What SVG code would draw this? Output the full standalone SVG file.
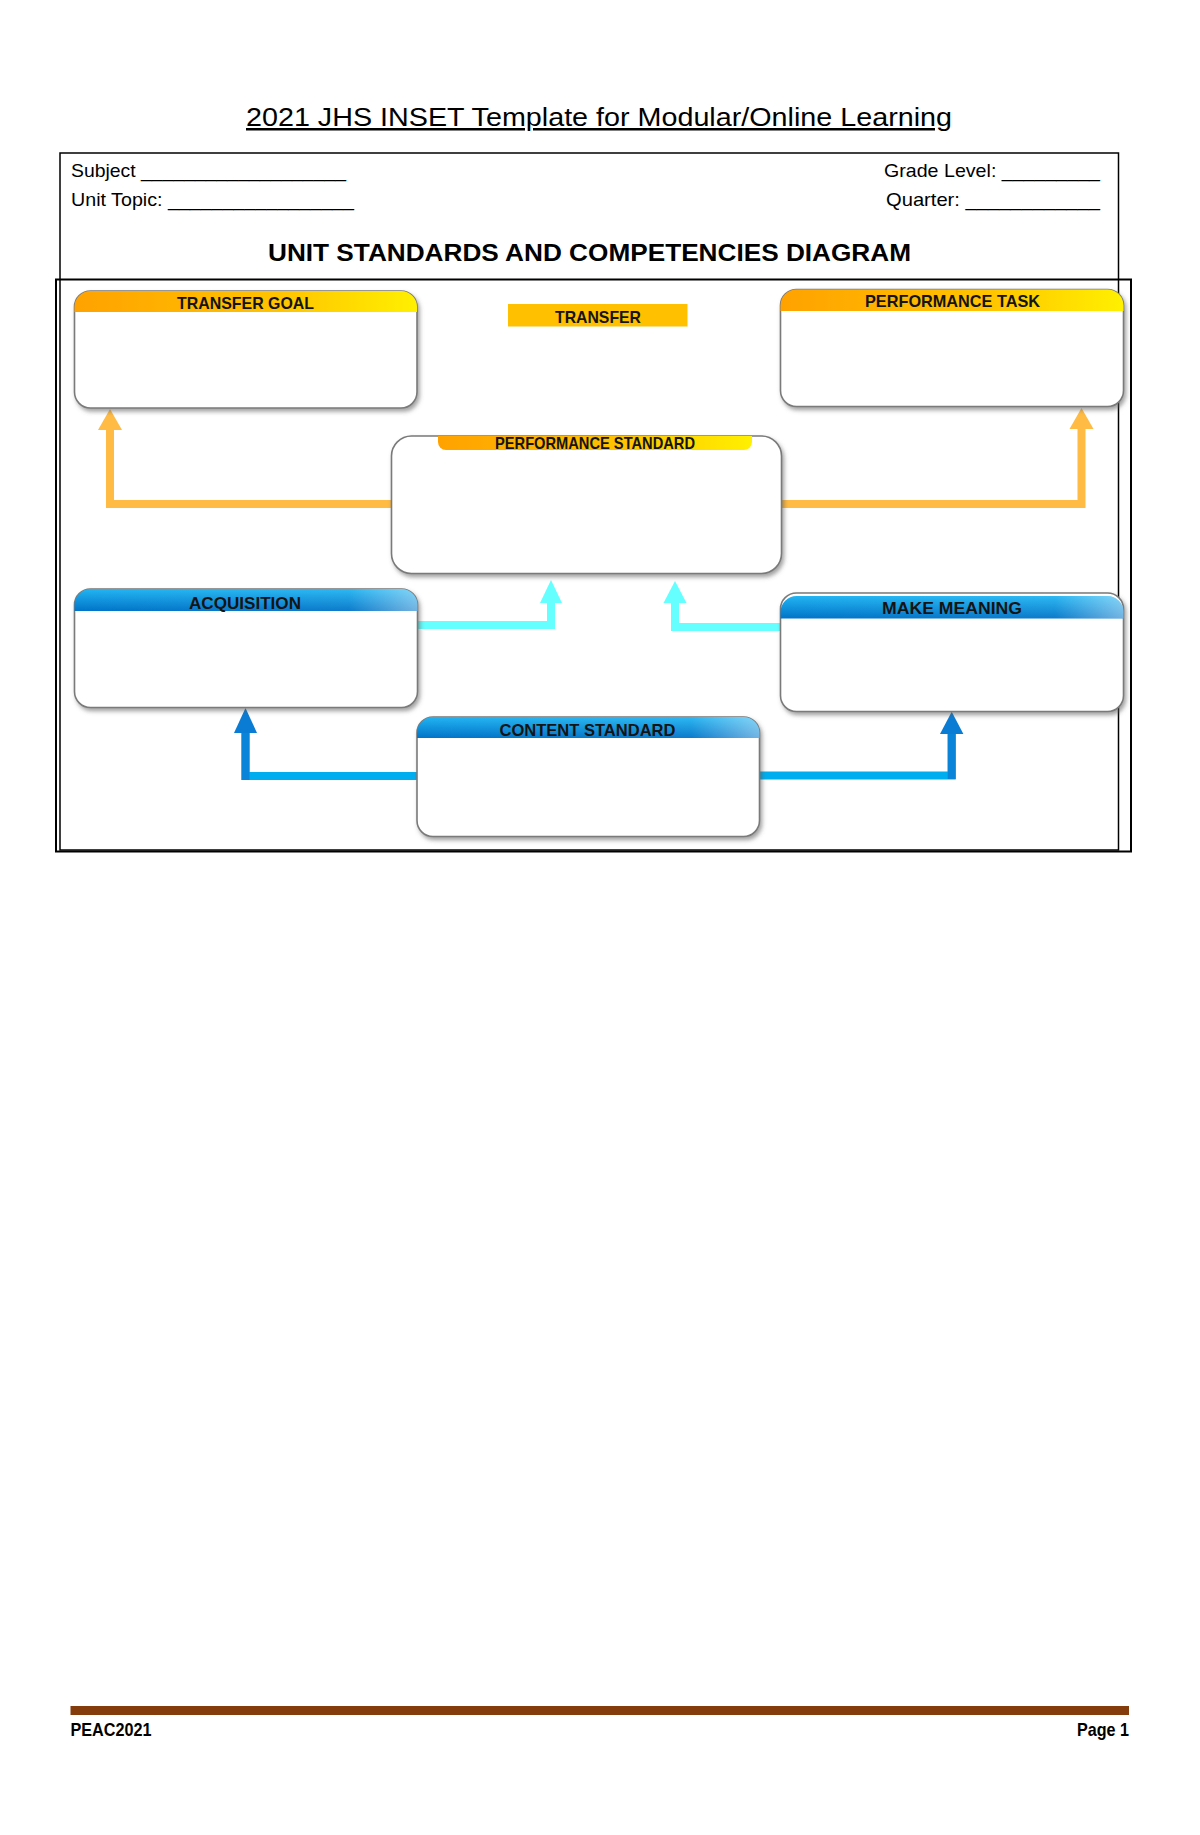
<svg xmlns="http://www.w3.org/2000/svg" width="1200" height="1835" viewBox="0 0 1200 1835">
<style>
.t{font-family:"Liberation Sans",Arial,sans-serif;fill:#000}
.lbl{font-family:"Liberation Sans",Arial,sans-serif;font-weight:bold;font-size:17px;fill:#141414;text-anchor:middle}
.box{fill:#fff;stroke:#7a7a7a;stroke-width:1.6}
.ora{fill:none;stroke:#FFBB44;stroke-width:8}
.cya{fill:none;stroke:#66FFFF;stroke-width:8}
.blu{fill:none;stroke:#00AEEF;stroke-width:8}
</style>
<defs>
<linearGradient id="gOr" x1="0" y1="0" x2="1" y2="0">
<stop offset="0" stop-color="#FFA200"/><stop offset="0.6" stop-color="#FFC400"/><stop offset="1" stop-color="#FFF000"/>
</linearGradient>
<linearGradient id="gBl" x1="0" y1="0" x2="0" y2="1">
<stop offset="0" stop-color="#22B4F2"/><stop offset="1" stop-color="#0074C8"/>
</linearGradient>
<linearGradient id="gBlR" x1="0" y1="0" x2="1" y2="0">
<stop offset="0" stop-color="#fff" stop-opacity="0"/><stop offset="0.8" stop-color="#fff" stop-opacity="0.05"/><stop offset="1" stop-color="#fff" stop-opacity="0.45"/>
</linearGradient>
<filter id="sh" x="-5%" y="-5%" width="112%" height="120%">
<feDropShadow dx="2" dy="3" stdDeviation="2" flood-color="#555" flood-opacity="0.55"/>
</filter>
</defs>

<g id="page-header">
<text class="t" x="246" y="126" font-size="25" text-decoration="underline" textLength="706" lengthAdjust="spacingAndGlyphs">2021 JHS INSET Template for Modular/Online Learning</text>
<rect x="60" y="153" width="1058.5" height="697" fill="none" stroke="#000" stroke-width="1.5"/>
<text class="t" x="71" y="176.5" font-size="19" textLength="275" lengthAdjust="spacingAndGlyphs">Subject ___________________</text>
<text class="t" x="71" y="206" font-size="19" textLength="283" lengthAdjust="spacingAndGlyphs">Unit Topic: _________________</text>
<text class="t" x="884" y="176.5" font-size="19" textLength="216" lengthAdjust="spacingAndGlyphs">Grade Level: _________</text>
<text class="t" x="886" y="206" font-size="19" textLength="214" lengthAdjust="spacingAndGlyphs">Quarter: ____________</text>
<text class="t" x="268" y="261" font-size="24" font-weight="bold" textLength="643" lengthAdjust="spacingAndGlyphs">UNIT STANDARDS AND COMPETENCIES DIAGRAM</text>
<rect x="56" y="279.5" width="1075" height="572" fill="none" stroke="#000" stroke-width="2"/>
</g>

<g id="connectors">
<path class="ora" d="M392,504 H110 V428"/>
<polygon points="98,430 122,430 110,409" fill="#FFBB44"/>
<path class="ora" d="M782,504 H1081.5 V427"/>
<polygon points="1069.5,429 1093.5,429 1081.5,408" fill="#FFBB44"/>
<path class="cya" d="M418,625 H551 V601"/>
<polygon points="540,603 562,603 551,580" fill="#66FFFF"/>
<path class="cya" d="M781,627 H675 V601"/>
<polygon points="663.5,603 686.5,603 675,581" fill="#66FFFF"/>
<path class="blu" d="M418,776 H245.5 V731"/>
<path d="M245.5,780 V731" stroke="#0A84D8" stroke-width="8" fill="none"/>
<polygon points="234,733 257,733 245.5,708" fill="#0A7CD4"/>
<path class="blu" d="M759,775.5 H951.7 V732"/>
<path d="M951.7,779 V732" stroke="#0A84D8" stroke-width="8" fill="none"/>
<polygon points="940,734 963.4,734 951.7,711.7" fill="#0A7CD4"/>
</g>

<g id="transfer-goal">
<rect class="box" x="74.5" y="291" width="342.5" height="117" rx="16" filter="url(#sh)"/>
<path d="M74.5,312 V307 A16,16 0 0 1 90.5,291 H401 A16,16 0 0 1 417,307 V312 Z" fill="url(#gOr)"/>
<text class="lbl" x="245.5" y="309" textLength="137" lengthAdjust="spacingAndGlyphs">TRANSFER GOAL</text>
</g>

<g id="transfer">
<rect x="508" y="304" width="179.5" height="22.5" fill="#FFC000"/>
<text class="lbl" x="598" y="323" textLength="86" lengthAdjust="spacingAndGlyphs">TRANSFER</text>
</g>

<g id="performance-task">
<rect class="box" x="780.5" y="289.5" width="343" height="117" rx="16" filter="url(#sh)"/>
<path d="M780.5,311 V305.5 A16,16 0 0 1 796.5,289.5 H1107.5 A16,16 0 0 1 1123.5,305.5 V311 Z" fill="url(#gOr)"/>
<text class="lbl" x="952.5" y="306.5" textLength="175" lengthAdjust="spacingAndGlyphs">PERFORMANCE TASK</text>
</g>

<g id="performance-standard">
<rect class="box" x="391.5" y="436" width="390" height="137.5" rx="20" filter="url(#sh)"/>
<path d="M438,436 H752 V442 A8,8 0 0 1 744,450 H446 A8,8 0 0 1 438,442 Z" fill="url(#gOr)"/>
<text class="lbl" x="595" y="449" textLength="200" lengthAdjust="spacingAndGlyphs">PERFORMANCE STANDARD</text>
</g>

<g id="acquisition">
<rect class="box" x="74.5" y="589" width="343" height="118.5" rx="16" filter="url(#sh)"/>
<path d="M74.5,611 V605 A16,16 0 0 1 90.5,589 H401.5 A16,16 0 0 1 417.5,605 V611 Z" fill="url(#gBl)"/>
<path d="M74.5,611 V605 A16,16 0 0 1 90.5,589 H401.5 A16,16 0 0 1 417.5,605 V611 Z" fill="url(#gBlR)"/>
<text class="lbl" x="245" y="609" textLength="112" lengthAdjust="spacingAndGlyphs">ACQUISITION</text>
</g>

<g id="make-meaning">
<rect class="box" x="780.5" y="593" width="343" height="118.5" rx="16" filter="url(#sh)"/>
<path d="M780.5,618.5 V612 A16,16 0 0 1 796.5,596 H1107.5 A16,16 0 0 1 1123.5,612 V618.5 Z" fill="url(#gBl)"/>
<path d="M780.5,618.5 V612 A16,16 0 0 1 796.5,596 H1107.5 A16,16 0 0 1 1123.5,612 V618.5 Z" fill="url(#gBlR)"/>
<text class="lbl" x="952" y="614" textLength="140" lengthAdjust="spacingAndGlyphs">MAKE MEANING</text>
</g>

<g id="content-standard">
<rect class="box" x="417" y="717" width="342.5" height="119.5" rx="16" filter="url(#sh)"/>
<path d="M417,738 V733 A16,16 0 0 1 433,717 H743.5 A16,16 0 0 1 759.5,733 V738 Z" fill="url(#gBl)"/>
<path d="M417,738 V733 A16,16 0 0 1 433,717 H743.5 A16,16 0 0 1 759.5,733 V738 Z" fill="url(#gBlR)"/>
<text class="lbl" x="587.5" y="735.5" textLength="176" lengthAdjust="spacingAndGlyphs">CONTENT STANDARD</text>
</g>

<g id="footer">
<rect x="70.5" y="1706" width="1058.5" height="9" fill="#843C0C"/>
<text class="t" x="70.5" y="1735.5" font-size="19" font-weight="bold" textLength="81" lengthAdjust="spacingAndGlyphs">PEAC2021</text>
<text class="t" x="1077" y="1735.5" font-size="19" font-weight="bold" textLength="52" lengthAdjust="spacingAndGlyphs">Page 1</text>
</g>
</svg>
